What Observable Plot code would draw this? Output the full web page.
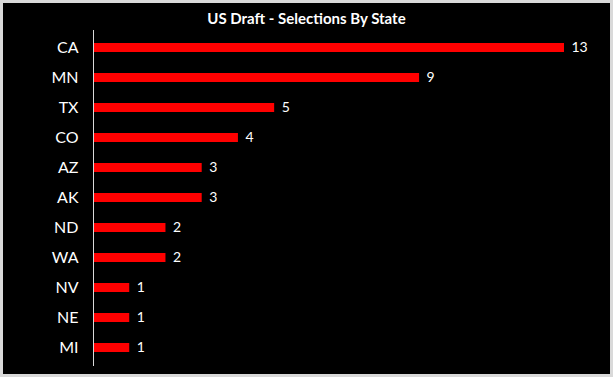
<!DOCTYPE html>
<html><head><meta charset="utf-8">
<script src="https://cdn.jsdelivr.net/npm/d3@7"></script>
<script src="https://cdn.jsdelivr.net/npm/@observablehq/plot@0.6"></script>
<style>
html,body{margin:0;padding:0;background:#fff;}
#wrap{width:613px;height:377px;box-sizing:border-box;border:3px solid #d9d9d9;background:#000;color:#fff;font-family:Lato,"Open Sans",sans-serif;overflow:hidden;}
#title{height:22px;line-height:22px;padding-top:4px;text-align:center;font-weight:bold;font-size:15px;}
#chart svg{display:block;}
</style>
</head><body>
<div id="wrap"><div id="title">US Draft - Selections By State</div><div id="chart"></div></div>
<script>
const states = ["CA","MN","TX","CO","AZ","AK","ND","WA","NV","NE","MI"];
const selections = [13, 9, 5, 4, 3, 3, 2, 2, 1, 1, 1];
const data = states.map((s, i) => ({state: s, count: selections[i]}));

const chart = Plot.plot({
  width: 607,
  height: 345,
  marginTop: 1,
  marginBottom: 8,
  marginLeft: 90,
  marginRight: 46,
  style: {background: "#000", color: "#fff", fontFamily: "Lato, 'Open Sans', sans-serif"},
  x: {domain: [0, 13], axis: null},
  y: {domain: states, paddingInner: 0.69, paddingOuter: 0.345, label: null},
  marks: [
    Plot.barX(data, {y: "state", x: "count", fill: "#ff0000"}),
    Plot.text(data, {y: "state", x: "count", text: d => String(d.count), textAnchor: "start", dx: 7, fill: "#fff", fontSize: 14}),
    Plot.axisY({tickSize: 0, tickPadding: 15, fontSize: 16, label: null}),
    Plot.ruleX([0], {stroke: "#d9d9d9", strokeWidth: 1})
  ]
});
document.getElementById("chart").appendChild(chart);
</script>
</body></html>
